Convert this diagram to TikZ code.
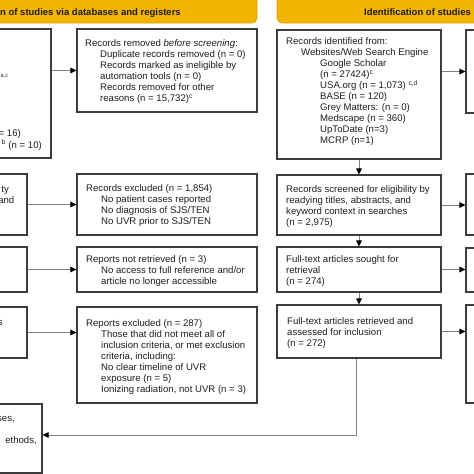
\documentclass[tikz,border=0pt]{standalone}
\usepackage{fontspec}
\setmainfont{Liberation Sans}
\usetikzlibrary{arrows.meta}
\definecolor{hdr}{HTML}{F2B400}
\definecolor{hdrline}{HTML}{D9A000}
\definecolor{boxline}{HTML}{3C3C3C}
\definecolor{conncol}{HTML}{808080}
\definecolor{ink}{HTML}{1E1E1E}
\begin{document}
\begin{tikzpicture}[x=1pt,y=-1pt,
  box/.style={draw=boxline, line width=1.1pt, fill=white, inner sep=0pt, anchor=center},
  txt/.style={inner sep=0pt, align=left, anchor=north west, font=\fontsize{9.6}{11}\selectfont, text=ink},
  frag/.style={inner sep=0pt, anchor=base east, font=\fontsize{9.6}{11}\selectfont, text=ink},
  hdrtxt/.style={inner sep=0pt, anchor=base west, font=\fontsize{9.5}{11}\selectfont\bfseries, text=ink},
  hdrbar/.style={fill=hdr, draw=hdrline, line width=0.8pt, rounded corners=5pt},
  conn/.style={draw=conncol, line width=1pt},
  arr/.style={conn, -{Triangle[length=6pt,width=5.5pt,color=black]}}
]
\useasboundingbox (0,0) rectangle (474,474);
\clip (0,0) rectangle (474,474);
\fill[white] (0,0) rectangle (474,474);

% header bars
\path[hdrbar] (-10,-5) rectangle (257,23);
\path[hdrbar] (277,-5) rectangle (490,23);
\node[hdrtxt] (H1) at (0,15.5) {n of studies via databases and registers};
\node[hdrtxt] (H2) at (364,15.5) {Identification of studies};

% left column (cut)
\node[box, minimum width=71pt, minimum height=129pt] (L1) at (15.5,93.5) {};
\node[box, minimum width=47pt, minimum height=61pt] (L2) at (3.5,204.5) {};
\node[box, minimum width=47pt, minimum height=45pt] (L3) at (3.5,269.5) {};
\node[box, minimum width=47pt, minimum height=51pt] (L4) at (3.5,332.5) {};
\node[box, minimum width=62pt, minimum height=69pt] (L5) at (11,438.5) {};

% second column
\node[box, minimum width=180pt, minimum height=83pt] (M1) at (167,70.5) {};
\node[box, minimum width=180pt, minimum height=61pt] (M2) at (167,204.5) {};
\node[box, minimum width=180pt, minimum height=45pt] (M3) at (167,269.5) {};
\node[box, minimum width=180pt, minimum height=96pt] (M4) at (167,355) {};

% third column
\node[box, minimum width=164pt, minimum height=129pt] (C1) at (359,94.5) {};
\node[box, minimum width=164pt, minimum height=60pt] (C2) at (359,205) {};
\node[box, minimum width=164pt, minimum height=45pt] (C3) at (359,269.5) {};
\node[box, minimum width=164pt, minimum height=53pt] (C4) at (359,331.5) {};

% fourth column (cut)
\node[box, minimum width=34pt, minimum height=83pt] (D1) at (483,71.5) {};
\node[box, minimum width=34pt, minimum height=61pt] (D2) at (483,204.5) {};
\node[box, minimum width=34pt, minimum height=44pt] (D3) at (483,270) {};
\node[box, minimum width=34pt, minimum height=98pt] (D4) at (483,354) {};

% texts
\node[txt] (M1t) at (85,39.5) {Records removed \textit{before screening}:\\
\hspace*{15pt}Duplicate records removed (n = 0)\\
\hspace*{15pt}Records marked as ineligible by\\
\hspace*{15pt}automation tools (n = 0)\\
\hspace*{15pt}Records removed for other\\
\hspace*{15pt}reasons (n = 15,732)\textsuperscript{c}};

\node[txt] (C1t) at (286,37.5) {Records identified from:\\
\hspace*{15pt}Websites/Web Search Engine\\
\hspace*{34pt}Google Scholar\\
\hspace*{34pt}(n = 27424)\textsuperscript{c}\\
\hspace*{34pt}USA.org (n = 1,073) \textsuperscript{c,d}\\
\hspace*{34pt}BASE (n = 120)\\
\hspace*{34pt}Grey Matters: (n = 0)\\
\hspace*{34pt}Medscape (n = 360)\\
\hspace*{34pt}UpToDate (n=3)\\
\hspace*{34pt}MCRP (n=1)};

\node[txt] (M2t) at (86,184.5) {Records excluded (n = 1,854)\\
\hspace*{15pt}No patient cases reported\\
\hspace*{15pt}No diagnosis of SJS/TEN\\
\hspace*{15pt}No UVR prior to SJS/TEN};

\node[txt] (C2t) at (286,185.5) {Records screened for eligibility by\\
readying titles, abstracts, and\\
keyword context in searches\\
(n = 2,975)};

\node[txt] (M3t) at (86,255.5) {Reports not retrieved (n = 3)\\
\hspace*{15pt}No access to full reference and/or\\
\hspace*{15pt}article no longer accessible};

\node[txt] (C3t) at (286,255.5) {Full-text articles sought for\\
retrieval\\
(n = 274)};

\node[txt] (M4t) at (86,319.5) {Reports excluded (n = 287)\\
\hspace*{15pt}Those that did not meet all of\\
\hspace*{15pt}inclusion criteria, or met exclusion\\
\hspace*{15pt}criteria, including:\\
\hspace*{15pt}No clear timeline of UVR\\
\hspace*{15pt}exposure (n = 5)\\
\hspace*{15pt}Ionizing radiation, not UVR (n = 3)};

\node[txt] (C4t) at (287,317.5) {Full-text articles retrieved and\\
assessed for inclusion\\
(n = 272)};

% fragments in the cut-off left column
\node[inner sep=0pt, anchor=west, font=\fontsize{5.5}{6}\selectfont, text=ink] (F1) at (0.5,76) {a,c};
\node[frag] (F2) at (21,136.5) {= 16)};
\node[frag] (F3) at (42,148.5) {\textsuperscript{b} (n = 10)};
\node[frag] (F4) at (9,192.5) {ty};
\node[frag] (F5) at (14.5,203.5) {and};
\node[frag] (F6) at (3,325.5) {s};
\node[frag] (F7) at (15,421.5) {ses,};
\node[frag] (F8) at (37,443.5) {ethods,};

% connectors
\draw[arr] (M1.west -| L1.east) -- (M1.west);
\draw[arr] (L2.east) -- (M2.west);
\draw[arr] (L3.east) -- (M3.west);
\draw[arr] (L4.east) -- (L4.east -| M4.west);

\draw[arr] (D1.west -| C1.east) -- (D1.west);
\draw[arr] (C2.east) -- (C2.east -| D2.west);
\draw[arr] (C3.east) -- (C3.east -| D3.west);
\draw[arr] (C4.east) -- (C4.east -| D4.west);

\draw[arr] (C1.south) -- (C2.north);
\draw[arr] (C2.south) -- (C3.north);
\draw[arr] (C3.south) -- (C4.north);

\coordinate (elbow) at (356,435);
\draw[arr] (C4.south -| elbow) -- (elbow) -- (elbow -| L5.east);
\end{tikzpicture}
\end{document}
